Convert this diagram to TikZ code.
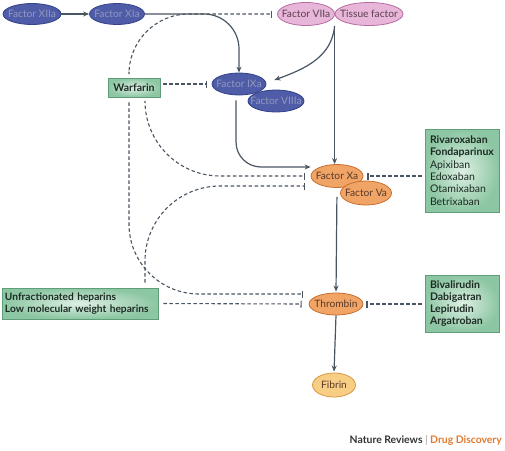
\documentclass[tikz,border=0pt]{standalone}
\usepackage{fontspec}
\setmainfont{Lato}
\usepackage{tikz}
\usetikzlibrary{arrows.meta,shapes.geometric}

\definecolor{blueFill}{HTML}{4F5DA8}
\definecolor{blueLine}{HTML}{34418A}
\definecolor{blueText}{HTML}{9298BE}
\definecolor{pinkFill}{HTML}{E8B6D8}
\definecolor{pinkLine}{HTML}{B56CA2}
\definecolor{pinkText}{HTML}{5A4050}
\definecolor{orangeFill}{HTML}{F0A466}
\definecolor{orangeLine}{HTML}{C96E2E}
\definecolor{orangeText}{HTML}{5A3A28}
\definecolor{fibrinFill}{HTML}{F8CD84}
\definecolor{fibrinLine}{HTML}{D69A42}
\definecolor{drugFill}{HTML}{8CC6A2}
\definecolor{drugLight}{HTML}{DDF0E3}
\definecolor{drugLine}{HTML}{5E9E78}
\definecolor{drugText}{HTML}{1E2A24}
\definecolor{linkColor}{HTML}{4A5562}
\definecolor{ndOrange}{HTML}{E07A30}

% label that does not widen its ellipse
\newcommand{\flabel}[1]{\makebox[0pt]{#1}}

\begin{document}
\begin{tikzpicture}[
				x=1pt, y=-1pt,
				factor style/.style={
					ellipse,
					inner sep=0pt,
					line width=0.8pt,
					minimum height=21pt,
					font=\fontsize{10.2}{12}\selectfont
				},
				blue factor/.style={factor style, draw=blueLine, fill=blueFill, text=blueText},
				pink factor/.style={factor style, draw=pinkLine, fill=pinkFill, text=pinkText},
				orange factor/.style={factor style, draw=orangeLine, fill=orangeFill, text=orangeText},
				drug style/.style={
					draw=drugLine,
					line width=0.7pt,
					inner color=drugLight,
					outer color=drugFill,
					text=drugText,
					align=left,
					inner sep=5pt,
					font=\fontsize{10.5}{12.3}\selectfont
				},
				flow/.style={
					draw=linkColor,
					line width=1.2pt,
					-{Stealth[length=6pt, width=5pt]}
				},
				block/.style={
					draw=linkColor,
					line width=1.1pt,
					dash pattern=on 3.5pt off 2.5pt,
					-{Bar[width=7pt, line width=1.1pt]}
				}
				]
				
				\useasboundingbox (0,0) rectangle (505,450);
				
				% factors
				\node[blue factor, minimum width=58pt] (f12) at (32,14) {\flabel{Factor XIIa}};
				\node[blue factor, minimum width=55pt] (f11) at (117,14) {\flabel{Factor XIa}};
				\node[pink factor, minimum width=57pt, minimum height=23pt] (f7) at (306,14) {\flabel{Factor VIIa}};
				\node[pink factor, minimum width=68pt, minimum height=23pt] (tf) at (369,14) {\flabel{Tissue factor}};
				\node[blue factor, minimum width=54pt, minimum height=22pt] (f9) at (239,84) {\flabel{Factor IXa}};
				\node[blue factor, minimum width=56pt, minimum height=22pt] (f8) at (276,101) {\flabel{Factor VIIIa}};
				\node[orange factor, minimum width=52pt, minimum height=23pt] (xa) at (337,176) {\flabel{Factor Xa}};
				\node[orange factor, minimum width=51pt, minimum height=24pt] (va) at (366,193) {\flabel{Factor Va}};
				\node[orange factor, minimum width=54pt, minimum height=22pt] (thrombin) at (336,304) {\flabel{Thrombin}};
				\node[factor style, draw=fibrinLine, fill=fibrinFill, text=orangeText, minimum width=43pt, minimum height=24pt] (fibrin) at (334,385) {\flabel{Fibrin}};
				
				% drugs
				\node[drug style, minimum width=52pt, minimum height=19pt, align=center, inner sep=2pt] (warfarin) at (134,87.5) {\textbf{Warfarin}};
				\node[drug style, text width=64pt, minimum height=83pt] (xadrugs) at (462,170.5)
				{\textbf{Rivaroxaban}\\\textbf{Fondaparinux}\\Apixiban\\Edoxaban\\Otamixaban\\Betrixaban};
				\node[drug style, text width=64pt, minimum height=57pt] (thrdrugs) at (462,303.5)
				{\textbf{Bivalirudin}\\\textbf{Dabigatran}\\\textbf{Lepirudin}\\\textbf{Argatroban}};
				\node[drug style, text width=150pt, inner sep=3pt, minimum height=31pt, font=\fontsize{10.2}{12.3}\selectfont] (heparins) at (80,303.5)
				{\textbf{Unfractionated heparins}\\\textbf{Low molecular weight heparins}};
				
				% activation
				\draw[flow] (f12) -- (f11);
				\draw[flow, rounded corners=35pt] (f11.east) -| (f9.north);
				\draw[flow] (tf.west |- tf.south) to[out=-95, in=20] ([xshift=8pt, yshift=4pt]f9.east);
				\draw[flow] (tf.west |- tf.south) -- (tf.west |- xa.north);
				\draw[flow, rounded corners=25pt, shorten <=5pt] ([xshift=-3pt]f9.south) |- ([yshift=9pt]xa.west);
				\draw[flow, shorten <=9pt, shorten >=1pt] (xa.south) -- (thrombin.north);
				\draw[flow, shorten >=1pt] (thrombin.south) -- (fibrin.north);
				
				% inhibition
				\draw[block, rounded corners=60pt, shorten <=6pt] ([xshift=-5pt]warfarin.north) |- ([xshift=-5pt]f7.west);
				\draw[block, shorten <=3pt] (warfarin.east |- f9.west) -- ([xshift=-5pt]f9.west);
				\draw[block, rounded corners=75pt, shorten <=5pt] ([xshift=11pt]warfarin.south) |- ([xshift=-6pt]xa.west);
				\draw[block, rounded corners=70pt, shorten <=5pt] ([xshift=-5pt]warfarin.south) |- ([xshift=-6pt, yshift=10pt]thrombin.west);
				\draw[block, rounded corners=75pt, shorten <=5pt] ([xshift=65pt]heparins.north) |- ([xshift=-6pt, yshift=-10pt]xa.west);
				\draw[block, shorten <=5pt] (heparins.east) -- ([xshift=-7pt]thrombin.west);
				\draw[block, shorten <=3pt] (xadrugs.west |- xa.east) -- ([xshift=4pt]xa.east);
				\draw[block, shorten <=3pt] (thrdrugs.west |- thrombin.east) -- ([xshift=3pt]thrombin.east);
				
				\node[anchor=east, inner sep=0pt, font=\fontsize{10.4}{12}\selectfont\bfseries] (credit) at (502,440)
				{{\color{black!80}Nature Reviews} {\color{black!40}\mdseries|} {\color{ndOrange}Drug Discovery}};
				
\end{tikzpicture}
\end{document}
